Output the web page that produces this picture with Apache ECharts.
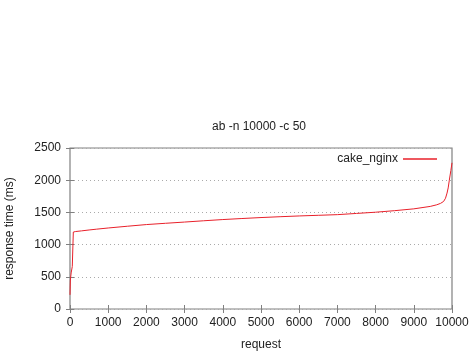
<!DOCTYPE html>
<html><head><meta charset="utf-8">
<script src="https://cdn.jsdelivr.net/npm/echarts@6/dist/echarts.min.js"></script>
<style>html,body{margin:0;padding:0;background:#fff}#c{width:474px;height:355px}</style>
</head><body><div id="c"></div>
<script>
const requests = [0, 10, 30, 60, 87, 150, 300, 500, 700, 1000, 1500, 2000, 2500, 3000, 3500, 4000, 4500, 5000, 5500, 6000, 6500, 7000, 7500, 8000, 8500, 9000, 9430, 9600, 9700, 9780, 9830, 9870, 9900, 9930, 9970, 10000];
const times = [220, 450, 560, 660, 1195, 1203, 1213, 1227, 1240, 1258, 1285, 1311, 1331, 1350, 1370, 1389, 1405, 1420, 1433, 1445, 1455, 1465, 1484, 1503, 1527, 1555, 1593, 1618, 1640, 1670, 1720, 1800, 1880, 2000, 2150, 2270];
const seriesName = 'cake_nginx';
const chartTitle = 'ab -n 10000 -c 50';
const xName = 'request';
const yName = 'response time (ms)';

const font = 'Liberation Sans, Arial, sans-serif';
const txt = '#222';
const axisCol = '#808080';
const fs = 12;
const data = requests.map((r, i) => [r, times[i]]);
const chart = echarts.init(document.getElementById('c'));
const tickCommon = {show: true, inside: true, length: 4, lineStyle: {color: axisCol}};
const plain = v => String(v);
chart.setOption({
  animation: false,
  title: {text: chartTitle, left: 254, top: 116, textAlign: 'center',
    textStyle: {fontFamily: font, fontSize: fs, fontWeight: 'normal', color: txt}},
  grid: {left: 70, right: 22, top: 148, bottom: 46, show: true, borderColor: axisCol, borderWidth: 1.2,
    containLabel: false, outerBoundsMode: 'none'},
  legend: {right: 32, top: 148, align: 'right', icon: 'rect', itemWidth: 34, itemHeight: 1.5, itemGap: 6,
    textStyle: {fontFamily: font, fontSize: fs, color: txt}, data: [seriesName]},
  xAxis: [{type: 'value', min: 0, max: 10000, interval: 1000,
    name: xName, nameLocation: 'middle', nameGap: 30,
    nameTextStyle: {fontFamily: font, fontSize: fs, color: txt},
    axisLine: {show: false}, axisTick: tickCommon,
    axisLabel: {fontFamily: font, fontSize: fs, color: txt, margin: 8, formatter: plain},
    splitLine: {show: false}},
    {type: 'value', position: 'top', min: 0, max: 10000, interval: 1000,
    axisLine: {show: false}, axisTick: tickCommon, axisLabel: {show: false}, splitLine: {show: false}}],
  yAxis: [{type: 'value', min: 0, max: 2500, interval: 500,
    name: yName, nameLocation: 'middle', nameGap: 54,
    nameTextStyle: {fontFamily: font, fontSize: fs, color: txt},
    axisLine: {show: false}, axisTick: tickCommon,
    axisLabel: {fontFamily: font, fontSize: fs, color: txt, margin: 9, formatter: plain},
    splitLine: {show: true, lineStyle: {color: '#aaa', type: [1, 3], width: 1}}},
    {type: 'value', position: 'right', min: 0, max: 2500, interval: 500,
    axisLine: {show: false}, axisTick: tickCommon, axisLabel: {show: false}, splitLine: {show: false}}],
  series: [{name: seriesName, type: 'line', data: data, showSymbol: false, symbol: 'none',
    lineStyle: {color: '#e8202a', width: 1}, itemStyle: {color: '#e8202a'}}]
});
</script></body></html>
